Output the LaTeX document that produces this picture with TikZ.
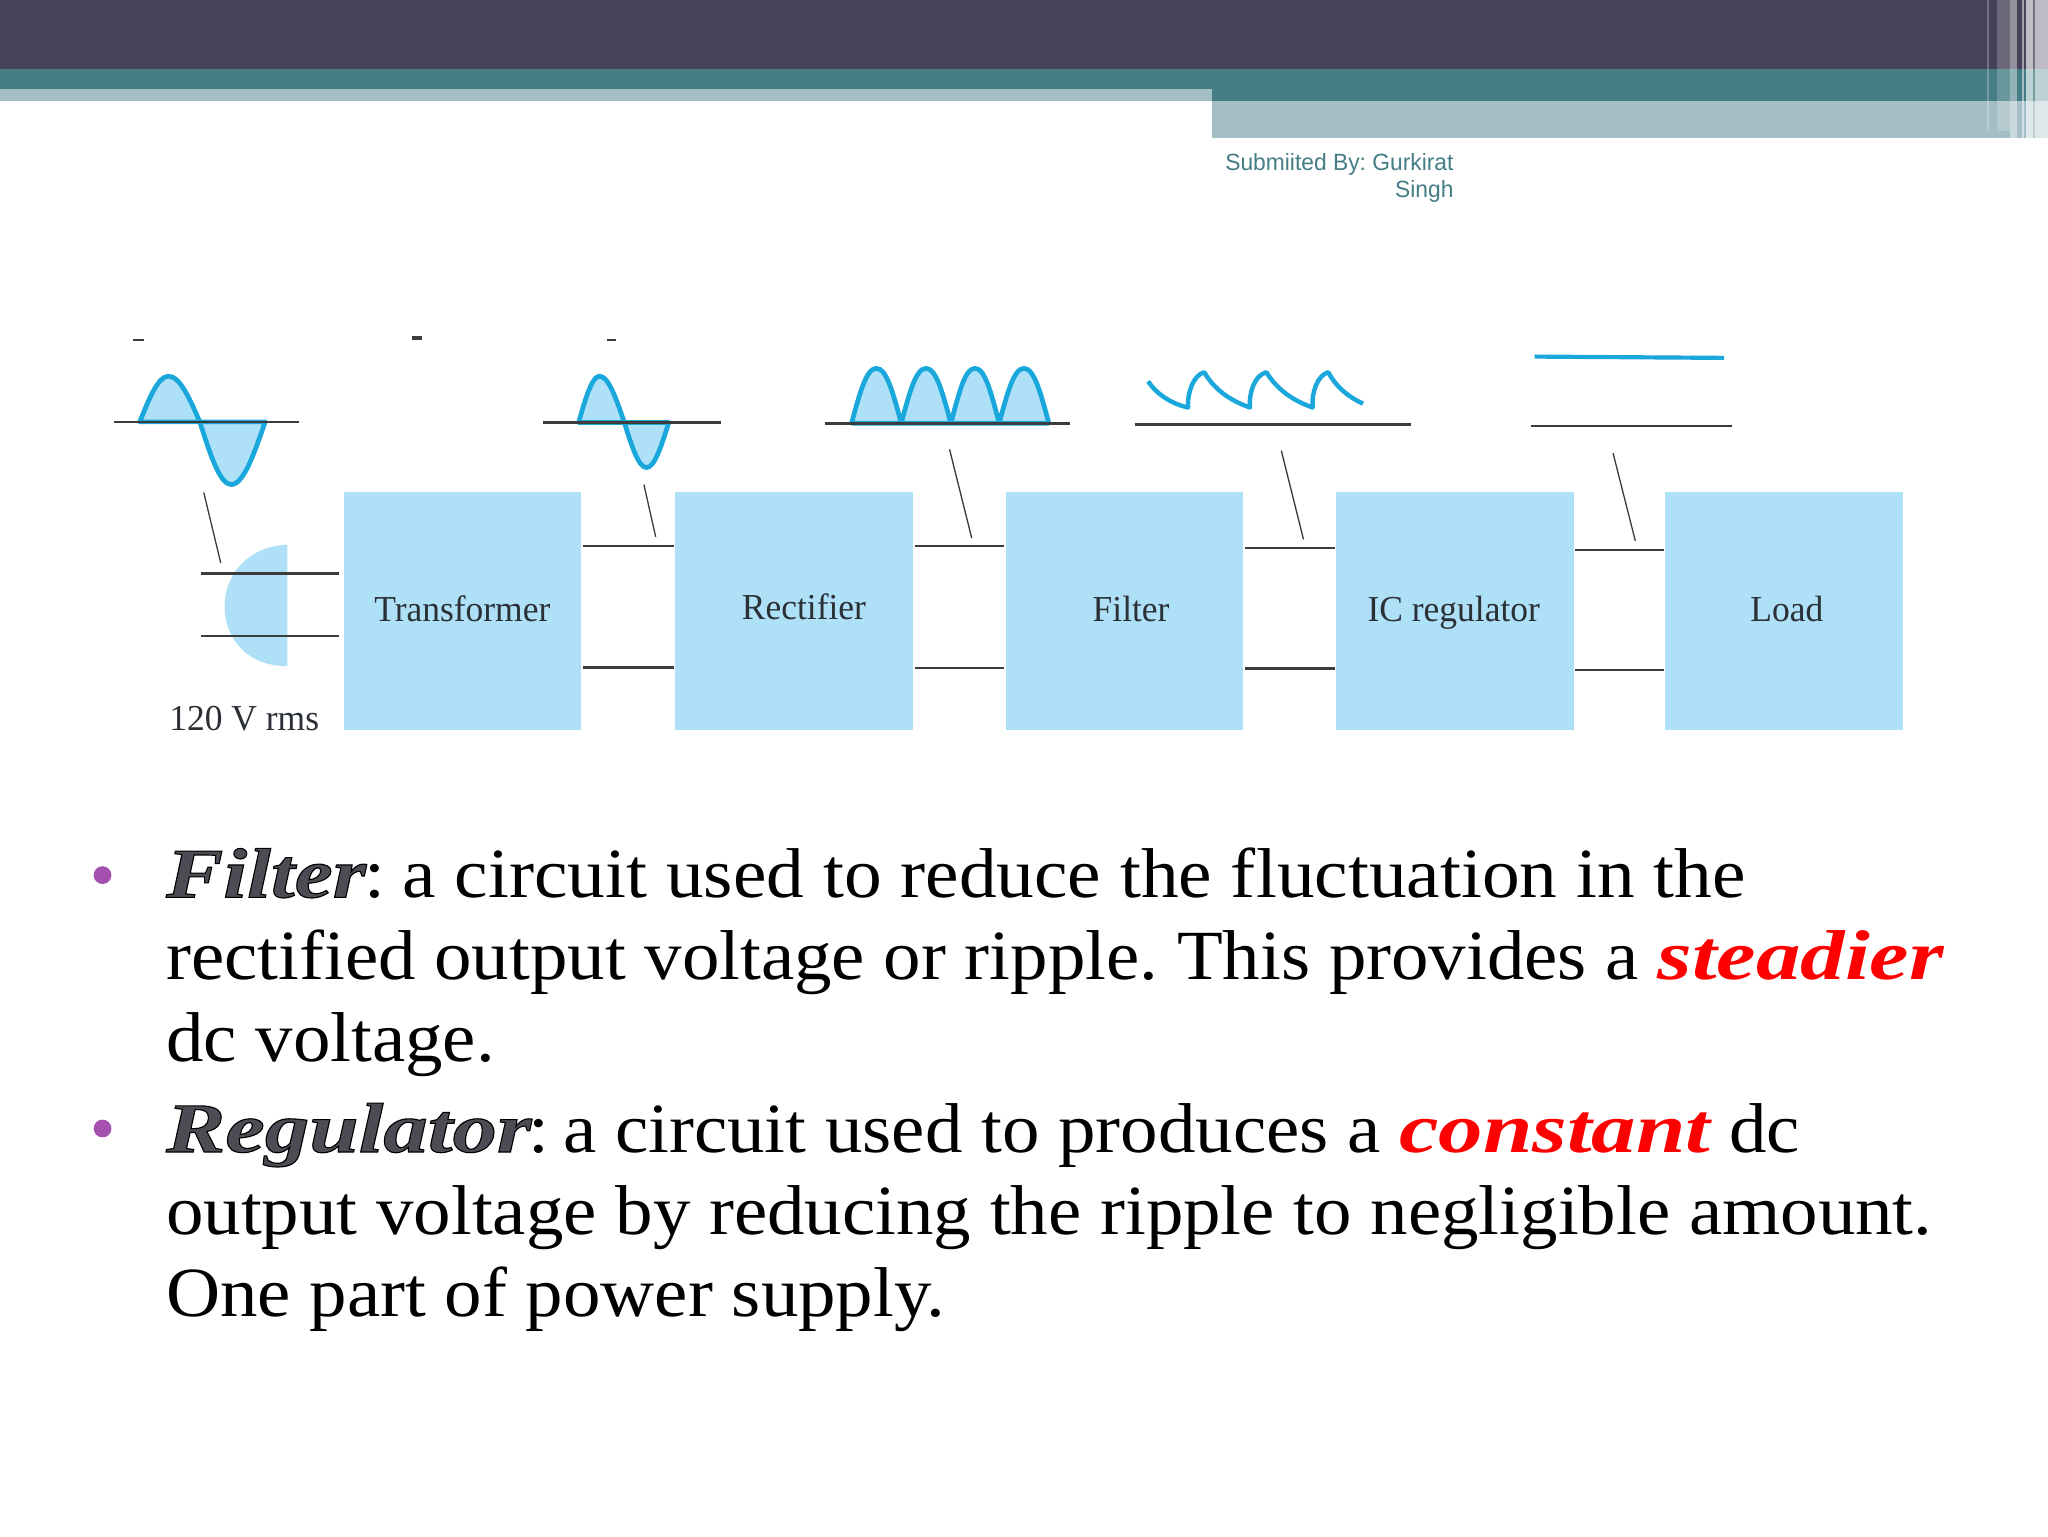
\documentclass[tikz,border=0pt]{standalone}
\usepackage{fontspec}
\setmainfont{Liberation Serif}
\newfontfamily\bodyf[FakeStretch=1.062]{Liberation Serif}
\newfontfamily\bodyg[FakeStretch=1.068]{Liberation Serif}
\newfontfamily\labelf[FakeStretch=.97]{Liberation Serif}
\newfontfamily\biredf[FakeStretch=1.26]{Liberation Serif Bold Italic}
\newfontfamily\bidark[FakeStretch=1.215,FakeBold=1.6]{Liberation Serif Bold Italic}
\newfontfamily\bidarkw[FakeStretch=1.26,FakeBold=1.6]{Liberation Serif Bold Italic}
\newfontfamily\sansf[FakeStretch=.97]{Liberation Sans}
\definecolor{hdark}{HTML}{464359}
\definecolor{hteal}{HTML}{457D85}
\definecolor{hlight}{HTML}{A3BEC5}
\definecolor{boxblue}{HTML}{AEE0F7}
\definecolor{wave}{HTML}{1AA7DC}
\definecolor{axisc}{HTML}{3C3C3C}
\definecolor{labelc}{HTML}{2B3036}
\definecolor{bulletc}{HTML}{A550AE}
\definecolor{redtxt}{HTML}{FF0000}
\newcommand{\redw}[1]{{\biredf\color{redtxt}#1}}
\newcommand{\edged}[1]{\special{pdf:bcolor [0.30 0.30 0.33] [0 0 0]}#1\special{pdf:ecolor}}
\newcommand{\shw}[1]{{\bidark\edged{#1}}}
\newcommand{\shv}[1]{{\bidarkw\edged{#1}}}
\tikzset{
  block/.style={fill=boxblue,draw=none,minimum width=182pt,minimum height=182pt,inner sep=0pt},
  blabel/.style={anchor=base,inner sep=0pt,text=labelc,font=\labelf\fontsize{28}{30}\selectfont},
  wire/.style={draw=axisc,line width=2pt,shorten >=1pt,shorten <=1pt},
  axisline/.style={draw=axisc,line width=2pt},
  leader/.style={draw=axisc,line width=1pt},
  wavef/.style={draw=wave,fill=boxblue,line width=3.6pt,line join=round},
  wavel/.style={draw=wave,line width=3.4pt,line join=round},
  bline/.style={anchor=base west,inner sep=0pt,text=black,font=\frenchspacing\bodyf\fontsize{54}{63}\selectfont},
  blinewide/.style={bline,font=\frenchspacing\bodyg\fontsize{54}{63}\selectfont},
  authline/.style={anchor=base east,inner sep=0pt,text=hteal,font=\frenchspacing\sansf\fontsize{18}{21}\selectfont},
  bulletdot/.style={circle,fill=bulletc,minimum size=13.6pt,inner sep=0pt},
  stripe/.style={fill=white,draw=none},
  crumb/.style={draw=axisc,line width=1.5pt}
}
\begin{document}
\begin{tikzpicture}[x=1pt,y=-1pt]
\useasboundingbox (0,0) rectangle (1568,1176);
\fill[white] (0,0) rectangle (1568,1176);
% header bands
\fill[hdark] (0,0) rectangle (1568,52.5);
\fill[hteal] (0,52.5) rectangle (1568,77.5);
\fill[hlight] (0,68.5) rectangle (928,77.5);
\fill[hlight] (928,77.5) rectangle (1568,106);
% stripes
\fill[stripe,opacity=.25] (1521.5,0) rectangle (1523,100);
\fill[stripe,opacity=.2] (1529,0) rectangle (1539,100);
\fill[stripe,opacity=.42] (1539,0) rectangle (1544.5,106);
\fill[stripe,opacity=.5] (1548,0) rectangle (1549.7,106);
\fill[stripe,opacity=.65] (1550.8,0) rectangle (1556.5,106);
\fill[stripe,opacity=.25] (1556.5,0) rectangle (1558.2,106);
\fill[stripe,opacity=.65] (1558.2,0) rectangle (1568,106);
% author
\node[authline] (auth1) at (1113,130.5) {Submiited By: Gurkirat};
\node[authline] (auth2) at (1113,151) {Singh};
% crumbs
\draw[crumb] (102,260) -- (110,260);
\draw[crumb,line width=3pt] (315.5,259) -- (323,259);
\draw[crumb] (465,260) -- (472,260);
% source
\fill[boxblue] (220,417) .. controls (190,418) and (172,440) .. (172,464) .. controls (172,490) and (190,510) .. (220,510) -- cycle;
% blocks
\node[block] (tr) at (354,468) {};
\node[block] (re) at (608,468) {};
\node[block] (fi) at (861,468) {};
\node[block] (ic) at (1114,468) {};
\node[block] (lo) at (1366,468) {};
\node[blabel] (ltr) at (354,476) {Transformer};
\node[blabel] (lre) at (615.5,474) {Rectifier};
\node[blabel] (lfi) at (866,476) {Filter};
\node[blabel] (lic) at (1113,476) {IC regulator};
\node[blabel] (llo) at (1368,476) {Load};
\node[blabel] (lrms) at (187,559) {120 V rms};
% wires
\coordinate (s1) at (154,439);
\coordinate (s2) at (154,487);
\draw[wire,shorten <=0pt,shorten >=3pt] (s1) -- (tr.west |- s1);
\draw[wire,shorten <=0pt,shorten >=3pt] (s2) -- (tr.west |- s2);
\draw[wire] ([yshift=50pt]tr.east) -- ([yshift=50pt]re.west);
\draw[wire] ([yshift=-43pt]tr.east) -- ([yshift=-43pt]re.west);
\draw[wire] ([yshift=50pt]re.east) -- ([yshift=50pt]fi.west);
\draw[wire] ([yshift=-43.5pt]re.east) -- ([yshift=-43.5pt]fi.west);
\draw[wire] ([yshift=48.5pt]fi.east) -- ([yshift=48.5pt]ic.west);
\draw[wire] ([yshift=-44pt]fi.east) -- ([yshift=-44pt]ic.west);
\draw[wire] ([yshift=47pt]ic.east) -- ([yshift=47pt]lo.west);
\draw[wire] ([yshift=-45pt]ic.east) -- ([yshift=-45pt]lo.west);
% waveform 1
\draw[wavef] (107,323) sin (129,288) cos (153,323) sin (177,371) cos (203,323) -- cycle;
\draw[axisline] (87,323) -- (229,323);
% waveform 2
\draw[wavef] (443,323.5) sin (459,288) cos (478,323.5) sin (495,358) cos (512,323.5) -- cycle;
\draw[axisline] (416,323.5) -- (552,323.5);
% rectified
\draw[wavef] (652,324) .. controls (658,302) and (663,282) .. (671,282) .. controls (679,282) and (684,302) .. (690,324)
  .. controls (696,302) and (701,282) .. (709,282) .. controls (717,282) and (722,302) .. (728,324)
  .. controls (734,302) and (738.5,282) .. (746.5,282) .. controls (754.5,282) and (759,302) .. (765,324)
  .. controls (771,302) and (776,282) .. (784,282) .. controls (792,282) and (797,302) .. (803,324) -- cycle;
\draw[axisline] (632,324) -- (819,324);
% filtered
\draw[wavel] (879,292) .. controls (885,301) and (896,309) .. (909.6,312) .. controls (909,300) and (914,287) .. (922,285)
  .. controls (929,297) and (940,306) .. (957,312) .. controls (956,300) and (961,287) .. (969.6,285)
  .. controls (977,297) and (988,306) .. (1005,312) .. controls (1004,300) and (1009,287) .. (1017,285)
  .. controls (1022,295) and (1032,304) .. (1043.6,309);
\draw[axisline] (869,325) -- (1080,325);
% dc
\draw[wave,line width=3.2pt] (1175,273) -- (1320,274);
\draw[axisline] (1172,326) -- (1326,326);
% leaders
\draw[leader] (156,377) -- (169,431);
\draw[leader] (493,371) -- (502,411);
\draw[leader] (727,344) -- (744,412);
\draw[leader] (981,345) -- (998,413);
\draw[leader] (1235,347) -- (1252,414);
% bullets
\node[bulletdot] (b1) at (78.5,670) {};
\node[bulletdot] (b2) at (78.5,864) {};
% text
\node[blinewide] (t1) at (127,687) {\shw{Filter}\kern-1pt:\kern-1.5pt{} a circuit used to reduce the fluctuation in the};
\node[bline] (t2) at (127,750) {rectified output voltage or ripple. This provides a \redw{steadier}};
\node[bline] (t3) at (127,813) {dc voltage.};
\node[bline] (t4) at (127,882) {\shv{Regulator}\kern-2pt:\kern-4pt{} a circuit used to produces a \redw{constant} dc};
\node[bline] (t5) at (127,945) {output voltage by reducing the ripple to negligible amount.};
\node[bline] (t6) at (127,1008) {One part of power supply.};
\end{tikzpicture}
\end{document}
